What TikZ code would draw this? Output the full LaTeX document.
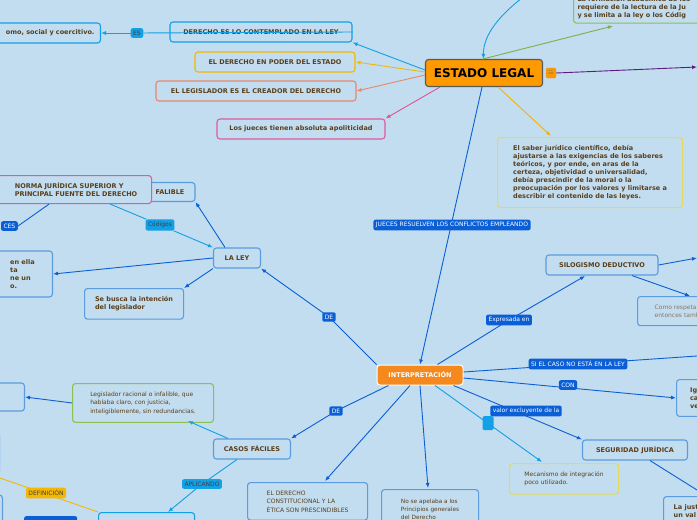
\documentclass[tikz,border=0pt]{standalone}
\usepackage{fontspec}
\setmainfont{DejaVu Sans}
\usetikzlibrary{arrows.meta}
\definecolor{bg}{HTML}{C2DDF0}
\definecolor{txt}{HTML}{5A3E1B}
\definecolor{bl}{HTML}{5B9BE0}
\definecolor{dbl}{HTML}{0A5FD6}
\definecolor{cy}{HTML}{12A0E6}
\definecolor{org}{HTML}{FF9900}
\definecolor{org2}{HTML}{F5891E}
\definecolor{yel}{HTML}{F5B800}
\definecolor{sal}{HTML}{E8866A}
\definecolor{pnk}{HTML}{E05AA0}
\definecolor{grn}{HTML}{8CC152}
\definecolor{ylw}{HTML}{E3D95A}
\definecolor{pur}{HTML}{5E1A7E}
\tikzset{
 x=1pt,y=-1pt,
 box/.style={draw=bl,line width=1.1pt,rounded corners=3pt,fill=bg,text=txt,font=\fontsize{6.5}{8}\selectfont\bfseries,inner sep=0pt,align=center},
 nbox/.style={box,font=\fontsize{6}{8.5}\selectfont,align=left},
 lbl/.style={fill=dbl,rounded corners=2pt,text=white,font=\fontsize{6}{7}\selectfont,inner sep=2.5pt},
 clbl/.style={fill=cy,rounded corners=2pt,text=black!75,font=\fontsize{6}{7}\selectfont,inner sep=2.5pt},
 arr/.style={-{Latex[length=5pt,width=4pt]},line width=0.9pt},
 ln/.style={line width=0.9pt}
}
\begin{document}
\begin{tikzpicture}
\fill[bg] (0,0) rectangle (697,520);
\useasboundingbox (0,0) rectangle (697,520);
% top-left group
\node[box,draw=cy,minimum width=182,minimum height=20] (dl) at (261,32) {DERECHO ES LO CONTEMPLADO EN LA LEY};
\node[box,draw=cy,minimum height=20,anchor=east,text width=150,align=right,inner xsep=6pt] (es) at (101,33) {omo, social y coercitivo.};
\node[clbl,fill=cy] (esl) at (137,33) {ES};
\node[box,draw=yel,minimum width=160,minimum height=20] (pe) at (275,62) {EL DERECHO EN PODER DEL ESTADO};
\node[box,draw=sal,minimum width=200,minimum height=20] (lg) at (256,91) {EL LEGISLADOR ES EL CREADOR DEL DERECHO};
\node[box,draw=pnk,minimum width=168,minimum height=20] (ju) at (301,129) {Los jueces tienen absoluta apoliticidad};
% estado legal
\node[draw=black!65,line width=1.1pt,fill=org,rounded corners=3pt,minimum width=117,minimum height=27,font=\fontsize{12}{14}\selectfont\bfseries] (el) at (484,73) {ESTADO LEGAL};
\node[draw=org2,fill=org,rounded corners=1.5pt,minimum size=10,inner sep=0pt,font=\fontsize{7}{7}\selectfont,text=black!60] (ic) at (551,73) {$\equiv$};
\node[box,draw=grn,anchor=north west,text width=140,minimum height=30,align=left,inner sep=4pt] (gt) at (573,-8) {La formación académica de los\\requiere de la lectura de la Ju\\y se limita a la ley o los Códig};
\node[box,draw=ylw,anchor=north west,align=left,inner sep=6pt,minimum width=185,minimum height=70] (yt) at (497,137) {El saber jurídico científico, debía\\ajustarse a las exigencias de los saberes\\teóricos, y por ende, en aras de la\\certeza, objetividad o universalidad,\\debía prescindir de la moral o la\\preocupación por los valores y limitarse a\\describir el contenido de las leyes.};
\coordinate (top) at (522,-2);
\coordinate (pr) at (697,67);
\draw[cy,ln] (dl.east) -- (esl) ;
\draw[cy,arr] (esl) -- (es.east);
\draw[cy,arr] (el.west) ++(0,-3) -- (dl.south east);
\draw[yel,arr] (el.west) ++(0,-1) -- (pe.east);
\draw[sal,arr] (el.west) ++(0,2) -- (lg.east);
\draw[pnk!90!red,arr] (el.south west) ++(15,0) -- (ju.north east);
\draw[cy,{Latex[length=5pt,width=4pt]}-,line width=0.9pt] (el.north) ++(-0.5,0) .. controls (483,35) and (500,15) .. (top);
\draw[grn!90!black,arr] (el.north east) ++(-60,0) -- (613,26);
\draw[pur,arr] (ic.east) -- (pr);
\draw[yel!90!orange,arr] (el.south east) ++(-45,0) -- (551,136);
% interpretacion
\node[draw=white,line width=1pt,fill=org2,rounded corners=3pt,minimum width=86,minimum height=20,text=white,font=\fontsize{6.5}{8}\selectfont\bfseries,inner sep=0pt] (in) at (420,375) {INTERPRETACIÓN};
\draw[dbl,arr] (el.south) ++(-2,0) -- (in.north);
\node[lbl] at (452,225) {JUECES RESUELVEN LOS CONFLICTOS EMPLEANDO};
% la ley group
\node[box,minimum width=47,minimum height=20] (ley) at (237,258) {LA LEY};
\node[box,minimum width=60,minimum height=19,align=right] (fa) at (165,192) {\hspace{10pt}FALIBLE};
\node[box,draw=pnk,anchor=north west,minimum width=165,minimum height=28,align=left,inner sep=2pt] (nj) at (-14,175) {\hspace{14pt}NORMA JURÍDICA SUPERIOR Y\\\hspace{14pt}PRINCIPAL FUENTE DEL DERECHO};
\node[lbl,anchor=east] (ces) at (18,226) {CES};
\draw[dbl,ln] (nj.south) ++(-20,0) -- (ces.east);
\node[clbl] (co) at (160,225) {Códigos};
\draw[cy,ln] (110,204) -- (co);
\draw[cy,arr] (co) -- (ley.north west);
\draw[dbl,arr] (ley.north) ++(-12,0) -- (fa.south east);
\node[box,anchor=east,minimum width=80,minimum height=46,align=left,inner sep=3pt] (lb) at (53,274) {\hspace{20pt}en ella\\\hspace{20pt}ta\\\hspace{20pt}ne un\\\hspace{20pt}o.};
\draw[dbl,arr] (ley.west) -- (lb.east);
\node[box,anchor=north west,minimum width=99,minimum height=27,align=left,inner sep=8pt] (sb) at (84,288) {Se busca la intención\\del legislador};
\draw[dbl,arr] (ley.south west) -- (sb.north east);
\draw[dbl,ln] (in.north west) -- (329,317);
\draw[dbl,arr] (329,317) -- (ley.south east);
\node[lbl] at (329,317) {DE};
% casos faciles
\node[box,minimum width=77,minimum height=20] (cf) at (252,449) {CASOS FÁCILES};
\draw[dbl,ln] (in.south west) ++(12,0) -- (336,411);
\draw[dbl,arr] (336,411) -- (cf.north east);
\node[lbl] at (336,411) {DE};
\node[nbox,draw=grn,anchor=north west,minimum width=141,minimum height=36,inner sep=8pt] (lr) at (72,383) {Legislador racional o infalible, que\\hablaba claro, con justicia,\\inteligiblemente, sin redundancias.};
\node[box,anchor=east,minimum width=50,minimum height=28,font=\fontsize{3.5}{4}\selectfont,align=right] (sm) at (25,397) {eva\hspace{5pt}};
\draw[dbl,arr] (lr.west) -- (sm.east);
\draw[cy,arr] (cf.north) ++(-24,0) -- (188,421);
\node[box,draw=cy,anchor=north west,minimum width=96,minimum height=20] (bb) at (98,512) {};
\draw[cy,ln] (cf.south) ++(-15,0) -- (202,484);
\draw[cy,arr] (202,484) -- (168,512);
\node[clbl] at (202,484) {APLICANDO};
\draw[yel,ln] (0,478) -- (bb.north west);
\node[clbl,fill=yel] at (46,493) {DEFINICIÓN};
\node[fill=dbl,rounded corners=2pt,minimum width=53,minimum height=8,anchor=north west] at (24,516) {};
\node[box,anchor=east,minimum width=20,minimum height=30] at (3,510) {};
\node[box,anchor=east,minimum width=20,minimum height=42] at (0,453) {};
\node[nbox,anchor=north west,minimum width=120,minimum height=36,inner sep=8pt] (ed) at (247,482) {EL DERECHO\\CONSTITUCIONAL Y LA\\ÉTICA SON PRESCINDIBLES};
\draw[dbl,arr] (in.south) ++(-10,0) -- (325,481);
\node[nbox,anchor=north west,minimum width=97,minimum height=40,inner sep=8pt,font=\fontsize{5.8}{8}\selectfont] (np) at (381,489) {No se apelaba a los\\Principios generales\\del Derecho};
\draw[dbl,arr] (in.south) ++(0,0) -- (428,488);
% right group
\node[box,minimum width=112,minimum height=20] (sd) at (602,265) {SILOGISMO DEDUCTIVO};
\draw[dbl,ln] (in.north east) ++(-26,0) -- (509,320);
\draw[dbl,arr] (509,320) -- (585,276);
\node[lbl] at (509,320) {Expresada en};
\coordinate (r1) at (697,258);
\draw[dbl,arr] (sd.east) -- (r1);
\node[nbox,anchor=north west,minimum width=80,minimum height=29,inner sep=8pt,text=txt!70] (cr) at (637,296) {Como respetab\\entonces tamb};
\draw[dbl,arr] (sd.south) ++(30,0) -- (690,296);
\coordinate (r2) at (697,356);
\draw[dbl,ln] (in.east) ++(0,-3) -- (r2);
\node[lbl] at (578,364) {SI EL CASO NO ESTÁ EN LA LEY};
\node[box,anchor=north west,minimum width=40,minimum height=36,align=left,inner sep=8pt] (ig) at (676,379) {Ign\\cap\\ver};
\draw[dbl,arr] (in.east) ++(0,3) -- (ig.west);
\node[lbl] at (568,385) {CON};
\node[box,minimum width=105,minimum height=20] (sj) at (635,450) {SEGURIDAD JURÍDICA};
\draw[dbl,arr] (in.south east) ++(-10,0) -- (sj.north west);
\node[lbl] at (526,411) {valor excluyente de la};
\node[nbox,draw=ylw,anchor=north west,minimum width=109,minimum height=28,inner sep=8pt] (mi) at (509,463) {Mecanismo de integración\\poco utilizado.};
\draw[cy,arr] (in.south) ++(15,0) -- (542,462);
\node[fill=cy,rounded corners=1.5pt,minimum width=11,minimum height=14,inner sep=0pt] at (488,423) {};
\node[box,anchor=north west,minimum width=45,minimum height=30,align=left,inner sep=8pt] (lj) at (663,496) {La just\\un val};
\draw[dbl,ln] (sj.south) ++(15,0) -- (697,490);
\end{tikzpicture}
\end{document}
